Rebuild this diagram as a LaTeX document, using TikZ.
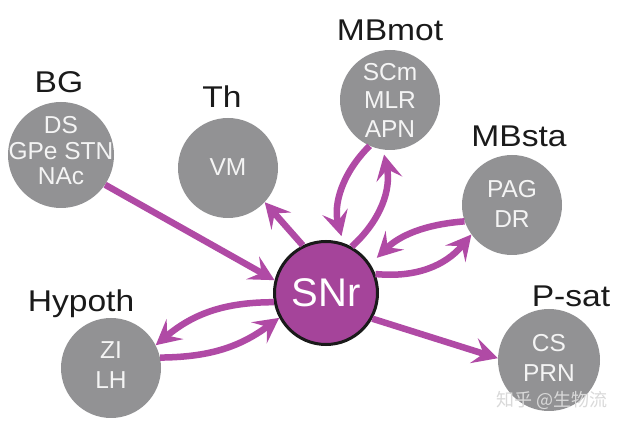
\documentclass[tikz,border=0pt]{standalone}
\usepackage{fontspec}
\setmainfont{Liberation Sans}
\newfontfamily\lblfont[FakeStretch=1.12]{Liberation Sans}
\newfontfamily\cjkfont{Noto Sans CJK SC}
\usetikzlibrary{arrows.meta}
\definecolor{regiongray}{HTML}{929294}
\definecolor{arrowmag}{HTML}{B04AA5}
\definecolor{snrfill}{HTML}{A5449A}
\definecolor{inktext}{HTML}{1A1A1A}
\definecolor{innertext}{HTML}{F4F4F4}
\begin{document}
\begin{tikzpicture}[x=1pt,y=1pt,
  region/.style={circle,fill=regiongray,inner sep=0pt,minimum size=#1},
  region/.default=100pt,
  grouplabel/.style={font=\lblfont\fontsize{30}{30}\selectfont,text=inktext,anchor=base,inner sep=0pt},
  innerlabel/.style={font=\fontsize{24.5}{#1}\selectfont,text=innertext,align=center,inner sep=0pt},
  innerlabel/.default=28,
  conn/.style={draw=arrowmag,line width=6.5pt,-{Stealth[length=25pt,width=26pt,inset=10pt]}},
]
\fill[white] (0,0) rectangle (627,426);
\useasboundingbox (0,0) rectangle (627,426);

% regions
\node[region=106pt] (bg) at (61,271) {};
\node[region] (th) at (228,258) {};
\node[region] (mbmot) at (390,326) {};
\node[region] (mbsta) at (512,221) {};
\node[region] (hyp) at (111,58) {};
\node[region=102pt] (psat) at (549,66) {};
\node[circle,fill=snrfill,draw=inktext,line width=3pt,inner sep=0pt,minimum size=103pt,
      font=\fontsize{40}{40}\selectfont,text=white] (snr) at (326,133) {SNr};

% inner texts
\node[innerlabel=25.5] (bgtxt) at (61,275) {DS\\GPe STN\\NAc};
\node[innerlabel] (thtxt) at (228,259) {VM};
\node[innerlabel=28.5] (mbmottxt) at (390,326) {SCm\\MLR\\APN};
\node[innerlabel=30] (mbstatxt) at (512,222) {PAG\\DR};
\node[innerlabel=30.5] (hyptxt) at (111,61) {ZI\\LH};
\node[innerlabel=30] (psattxt) at (549,68.5) {CS\\PRN};

% group labels
\node[grouplabel] (bglbl) at (59,333) {BG};
\node[grouplabel] (thlbl) at (222,318) {Th};
\node[grouplabel] (mbmotlbl) at (390,385) {MBmot};
\node[grouplabel] (mbstalbl) at (519,279) {MBsta};
\node[grouplabel] (hyplbl) at (81,114) {Hypoth};
\node[grouplabel] (psatlbl) at (571,119) {P-sat};

% connectors
\draw[conn] (bg.-34) -- (snr.166);
\draw[conn] (snr.116) -- (th.-43);
\draw[conn,shorten >=7pt] (mbmot.246) to[bend right=30] (snr.71);
\draw[conn,shorten >=5pt] (snr.61) to[bend right=30] (mbmot.-98);
\draw[conn,shorten >=9pt] (mbsta.199) to[bend right=20] (snr.33);
\draw[conn] (snr.21) to[bend right=28] (mbsta.216);
\draw[conn] (snr.190) to[bend right=20] (hyp.27);
\draw[conn] (hyp.12) to[bend right=18] (snr.208);
\draw[conn] (snr.-29) -- (psat.178);

% watermark
\node[font=\cjkfont\fontsize{18}{18}\selectfont,text=gray!30,inner sep=0pt] (wm) at (552,26) {知乎 @生物流};
\end{tikzpicture}
\end{document}
